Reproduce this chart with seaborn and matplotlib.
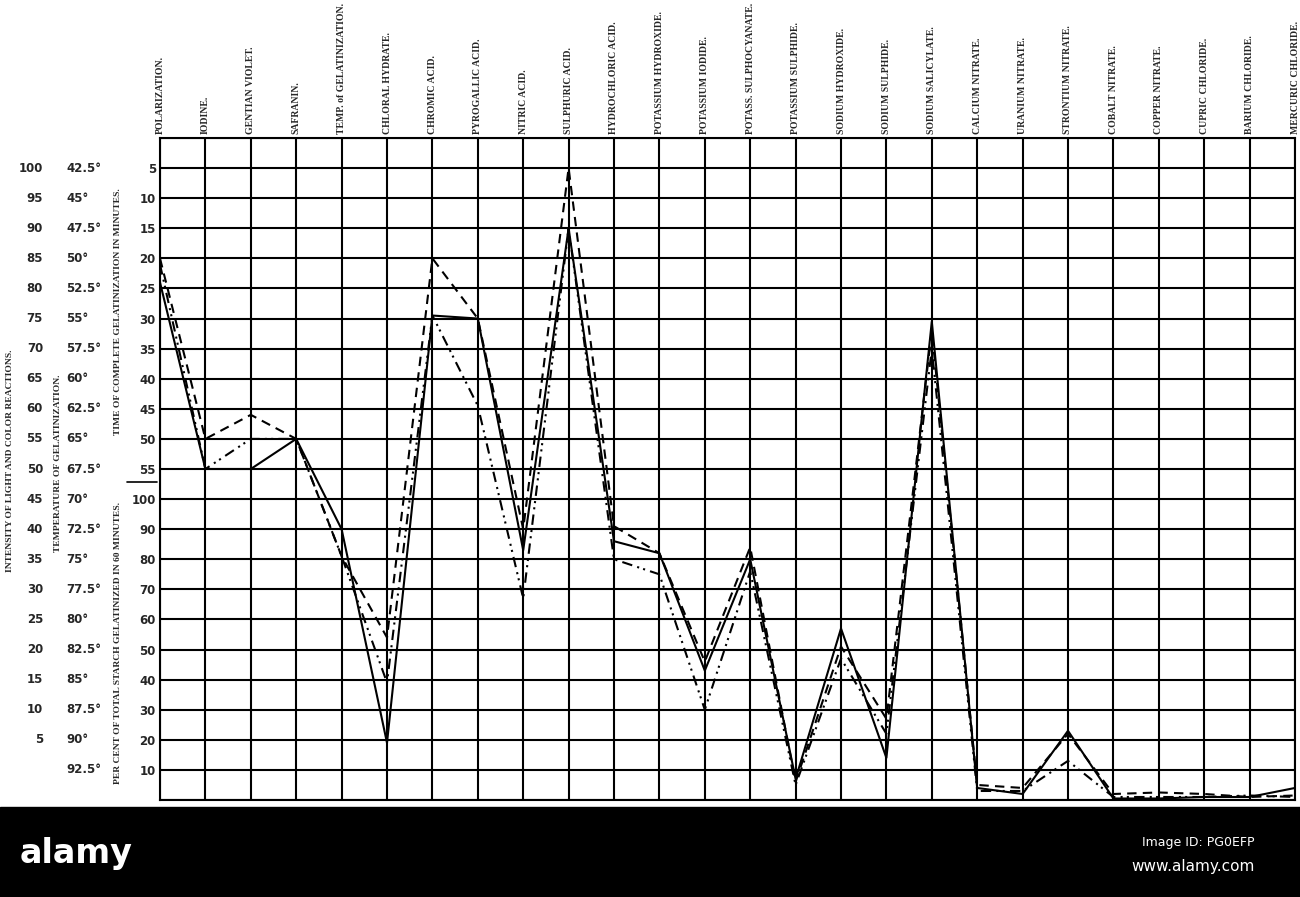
import numpy as np
import pandas as pd
import matplotlib
matplotlib.use('Agg')
import matplotlib.pyplot as plt
import matplotlib.transforms as mtransforms
from matplotlib.patches import Rectangle
import seaborn as sns

# reagents across the top of the chart
reagents = ['POLARIZATION.', 'IODINE.', 'GENTIAN VIOLET.', 'SAFRANIN.',
            'TEMP. of GELATINIZATION.', 'CHLORAL HYDRATE.', 'CHROMIC ACID.',
            'PYROGALLIC ACID.', 'NITRIC ACID.', 'SULPHURIC ACID.',
            'HYDROCHLORIC ACID.', 'POTASSIUM HYDROXIDE.', 'POTASSIUM IODIDE.',
            'POTASS. SULPHOCYANATE.', 'POTASSIUM SULPHIDE.', 'SODIUM HYDROXIDE.',
            'SODIUM SULPHIDE.', 'SODIUM SALICYLATE.', 'CALCIUM NITRATE.',
            'URANIUM NITRATE.', 'STRONTIUM NITRATE.', 'COBALT NITRATE.',
            'COPPER NITRATE.', 'CUPRIC CHLORIDE.', 'BARIUM CHLORIDE.',
            'MERCURIC CHLORIDE.']

# vertical position on the chart grid (10 units per grid row, lower half = per cent scale)
solid_line = [172, 110, 110, 120, 90, 19, 161, 160, 83, 190, 86, 82, 43, 80, 7,
              57, 14, 159, 4, 2, 23, 0.5, 0.5, 1, 1, 4]
dashed_line = [180, 120, 128, 120, 81, 54, 180, 160, 90, 210, 91, 82, 46, 84, 6,
               51, 27, 156, 5, 4, 22, 2, 2.5, 2, 1, 1.5]
dotdash_line = [178, 110, 120, 120, 81, 39, 161, 131, 67, 190, 80, 75, 30, 76, 5,
                47, 22, 150, 3, 3, 13, 1, 1, 1, 1.5, 1]

# scales printed down the left side
intensity = ['100', '95', '90', '85', '80', '75', '70', '65', '60', '55', '50',
             '45', '40', '35', '30', '25', '20', '15', '10', '5']
temperature = ['42.5°', '45°', '47.5°', '50°', '52.5°', '55°', '57.5°', '60°',
               '62.5°', '65°', '67.5°', '70°', '72.5°', '75°', '77.5°', '80°',
               '82.5°', '85°', '87.5°', '90°', '92.5°']
minutes = ['5', '10', '15', '20', '25', '30', '35', '40', '45', '50', '55']
per_cent = ['100', '90', '80', '70', '60', '50', '40', '30', '20', '10']

df = pd.DataFrame({
    'x': list(range(len(reagents))) * 3,
    'pos': solid_line + dashed_line + dotdash_line,
    'series': ['solid'] * len(reagents) + ['dashed'] * len(reagents) + ['dotdash'] * len(reagents),
})

sns.set_style('white')
serif = ['Liberation Serif', 'DejaVu Serif']
num_font = dict(family=['DejaVu Sans'], weight='bold', size=8.5)

fig = plt.figure(figsize=(13, 8.97), dpi=100)
ax = fig.add_axes([160 / 1300, 97 / 897, 1135 / 1300, 662 / 897])

sns.lineplot(data=df, x='x', y='pos', style='series', color='black',
             dashes={'solid': '', 'dashed': (4.5, 3), 'dotdash': (5, 2.5, 1, 2, 1, 2.5)},
             linewidth=1.5, sort=False, legend=False, ax=ax)

ax.set_xlim(0, len(reagents) - 1)
ax.set_ylim(0, 220)
ax.set_xlabel('')
ax.set_ylabel('')

# grid
ax.set_xticks(range(len(reagents)))
ax.xaxis.tick_top()
ax.set_xticklabels(reagents, rotation=90, ha='center', va='bottom',
                   fontfamily=serif, fontweight='bold', fontsize=7)
ax.set_yticks(range(0, 221, 10))
ylabels = [''] + per_cent[::-1] + minutes[::-1] + ['']
ax.set_yticklabels(ylabels, **num_font)
ax.tick_params(axis='both', length=0, pad=3)
ax.grid(True, color='black', linewidth=1.5)
for s in ax.spines.values():
    s.set_visible(True)
    s.set_color('black')
    s.set_linewidth(1.5)

# extra left scales
trans = mtransforms.blended_transform_factory(fig.transFigure, ax.transData)
for i, lab in enumerate(intensity):
    ax.text(43 / 1300, 210 - i * 10, lab, transform=trans, ha='right', va='center', **num_font)
for i, lab in enumerate(temperature):
    ax.text(66 / 1300, 210 - i * 10, lab, transform=trans, ha='left', va='center', **num_font)

ax.plot([-0.73, -0.07], [105.7, 105.7], color='black', lw=1.2, clip_on=False)

lab_kw = dict(rotation=90, ha='center', va='center', fontfamily=serif,
              fontweight='bold', fontsize=6.8)
fig.text(10 / 1300, 1 - 461 / 897, 'INTENSITY OF LIGHT AND COLOR REACTIONS.', **lab_kw)
fig.text(58 / 1300, 1 - 463 / 897, 'TEMPERATURE OF GELATINIZATION.', **lab_kw)
fig.text(118 / 1300, 1 - 312 / 897, 'TIME OF COMPLETE GELATINIZATION IN MINUTES.', **lab_kw)
fig.text(118 / 1300, 1 - 643 / 897, 'PER CENT OF TOTAL STARCH GELATINIZED IN 60 MINUTES.', **lab_kw)

# black strip at the bottom
fig.patches.append(Rectangle((0, 0), 1, 90 / 897, transform=fig.transFigure,
                             color='black', zorder=0))
fig.text(20 / 1300, 1 - 853 / 897, 'alamy', color='white', fontsize=24, fontweight='bold',
         family=['DejaVu Sans'], ha='left', va='center')
fig.text(1255 / 1300, 1 - 842 / 897, 'Image ID: PG0EFP', color='white', fontsize=9,
         family=['DejaVu Sans'], ha='right', va='center')
fig.text(1255 / 1300, 1 - 866 / 897, 'www.alamy.com', color='white', fontsize=11,
         family=['DejaVu Sans'], ha='right', va='center')

fig.savefig('out.png', dpi=100, facecolor='white')
